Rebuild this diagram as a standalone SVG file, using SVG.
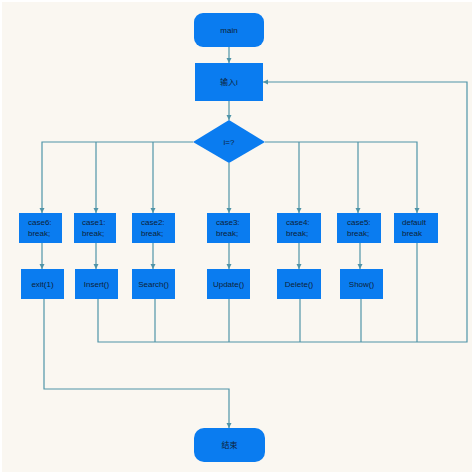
<svg xmlns="http://www.w3.org/2000/svg" width="474" height="475" viewBox="0 0 474 475">
<defs>
<style>
.n{fill:#0A7CF0;}
.t{font-family:"Liberation Sans","Noto Sans CJK SC",sans-serif;font-size:8px;fill:#0d2238;}
.c{text-anchor:middle;}
.e{fill:none;stroke:#4f94a8;stroke-width:1.2;}
</style>
<marker id="a" markerWidth="6" markerHeight="6" refX="5" refY="3" orient="auto" markerUnits="userSpaceOnUse">
<path d="M0,0.5 L5,3 L0,5.5 Z" fill="#4f94a8"/>
</marker>
</defs>
<rect x="0" y="0" width="474" height="475" fill="#FFFFFF"/>
<rect x="2" y="2" width="470" height="470" fill="#FAF7F1"/>
<g id="edges">
<path class="e" d="M229,47 V63" marker-end="url(#a)"/>
<path class="e" d="M229,101 V120" marker-end="url(#a)"/>
<path class="e" d="M193,142 H42 V213" marker-end="url(#a)"/>
<path class="e" d="M96,142 V213" marker-end="url(#a)"/>
<path class="e" d="M153,142 V213" marker-end="url(#a)"/>
<path class="e" d="M229,163 V213" marker-end="url(#a)"/>
<path class="e" d="M265,142 H417 V213" marker-end="url(#a)"/>
<path class="e" d="M299,142 V213" marker-end="url(#a)"/>
<path class="e" d="M358,142 V213" marker-end="url(#a)"/>
<path class="e" d="M42,243 V269" marker-end="url(#a)"/>
<path class="e" d="M96,243 V269" marker-end="url(#a)"/>
<path class="e" d="M153,243 V269" marker-end="url(#a)"/>
<path class="e" d="M229,243 V269" marker-end="url(#a)"/>
<path class="e" d="M299,243 V269" marker-end="url(#a)"/>
<path class="e" d="M360,243 V269" marker-end="url(#a)"/>
<path class="e" d="M98,299 V342 H467 V82 H263" marker-end="url(#a)"/>
<path class="e" d="M155,299 V342"/>
<path class="e" d="M229,299 V342"/>
<path class="e" d="M300,299 V342"/>
<path class="e" d="M361,299 V342"/>
<path class="e" d="M417,243 V342"/>
<path class="e" d="M44,299 V389 H229 V428" marker-end="url(#a)"/>
</g>
<g id="main"><rect class="n" x="194" y="13" width="70" height="34" rx="9"/><text class="t c" x="229" y="33">main</text></g>
<g id="input"><rect class="n" x="195" y="63" width="68" height="38"/><text class="t c" x="229" y="85">输入i</text></g>
<g id="decision"><polygon class="n" points="229,120 265,142 229,163 193,142"/><text class="t c" x="229" y="145">i=?</text></g>
<g id="case6"><rect class="n" x="19" y="213" width="43" height="30"/><text class="t" x="28" y="225">case6:</text><text class="t" x="28" y="236">break;</text></g>
<g id="case1"><rect class="n" x="74" y="213" width="42" height="30"/><text class="t" x="82" y="225">case1:</text><text class="t" x="82" y="236">break;</text></g>
<g id="case2"><rect class="n" x="132" y="213" width="43" height="30"/><text class="t" x="141" y="225">case2:</text><text class="t" x="141" y="236">break;</text></g>
<g id="case3"><rect class="n" x="207" y="213" width="43" height="30"/><text class="t" x="216" y="225">case3:</text><text class="t" x="216" y="236">break;</text></g>
<g id="case4"><rect class="n" x="277" y="213" width="44" height="30"/><text class="t" x="286" y="225">case4:</text><text class="t" x="286" y="236">break;</text></g>
<g id="case5"><rect class="n" x="337" y="213" width="44" height="30"/><text class="t" x="347" y="225">case5:</text><text class="t" x="347" y="236">break;</text></g>
<g id="default"><rect class="n" x="394" y="213" width="44" height="30"/><text class="t" x="402" y="225">default</text><text class="t" x="402" y="236">break</text></g>
<g id="exit"><rect class="n" x="21" y="269" width="43" height="30"/><text class="t c" x="42.5" y="287">exit(1)</text></g>
<g id="insert"><rect class="n" x="75" y="269" width="43" height="30"/><text class="t c" x="96.5" y="287">Insert()</text></g>
<g id="search"><rect class="n" x="132" y="269" width="43" height="30"/><text class="t c" x="153.5" y="287">Search()</text></g>
<g id="update"><rect class="n" x="207" y="269" width="43" height="30"/><text class="t c" x="228.5" y="287">Update()</text></g>
<g id="delete"><rect class="n" x="277" y="269" width="44" height="30"/><text class="t c" x="299" y="287">Delete()</text></g>
<g id="show"><rect class="n" x="340" y="269" width="43" height="30"/><text class="t c" x="361.5" y="287">Show()</text></g>
<g id="end"><rect class="n" x="194" y="428" width="71" height="34" rx="10"/><text class="t c" x="229.5" y="448">结束</text></g>
</svg>
